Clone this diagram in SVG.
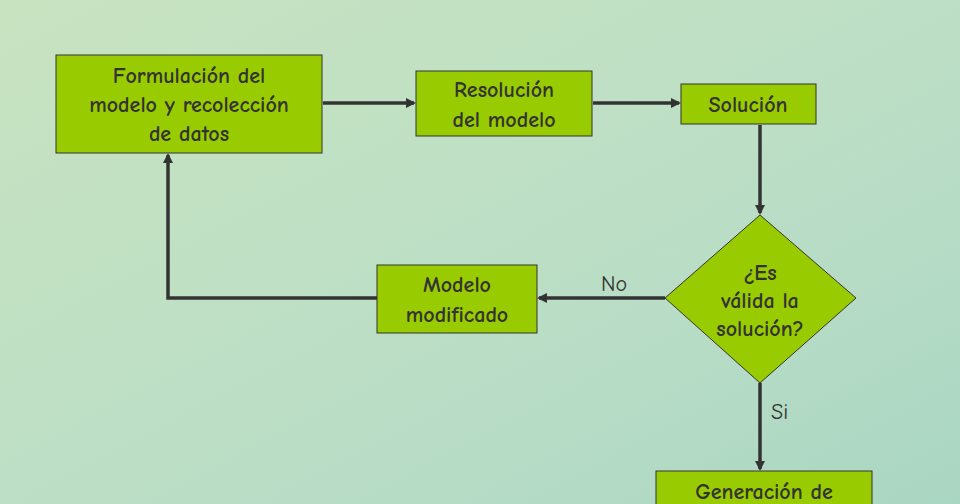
<svg xmlns="http://www.w3.org/2000/svg" width="960" height="504" viewBox="0 0 960 504">
<defs>
<linearGradient id="bg" x1="0" y1="0" x2="1" y2="1">
<stop offset="0" stop-color="#c8e3c0"/><stop offset="0.4" stop-color="#bfe0c4"/><stop offset="0.7" stop-color="#b7dcc6"/><stop offset="1" stop-color="#a9d6c2"/>
</linearGradient>
<marker id="ah" markerWidth="10" markerHeight="10" refX="8" refY="5" orient="auto" markerUnits="userSpaceOnUse"><path d="M0,0 L10,5 L0,10 Z" fill="#333"/></marker>
<style>
.n{fill:#99cc00;stroke:#333;stroke-width:1}
.t{font-family:"Comic Neue","Liberation Sans",sans-serif;font-weight:bold;font-size:22px;fill:#333;text-anchor:middle}
.l{font-family:"Comic Neue","Liberation Sans",sans-serif;font-size:22px;fill:#333}
.c{stroke:#333;stroke-width:3.5;fill:none;marker-end:url(#ah)}
</style>
</defs>
<rect width="960" height="504" fill="url(#bg)"/>
<g id="connectors">
<line class="c" x1="323" y1="103" x2="414" y2="103"/>
<line class="c" x1="593" y1="103" x2="679" y2="103"/>
<line class="c" x1="760" y1="125" x2="760" y2="213"/>
<line class="c" x1="665" y1="298" x2="539" y2="298"/>
<polyline class="c" points="377,298 168,298 168,155"/>
<line class="c" x1="760" y1="383" x2="760" y2="469"/>
<text class="l" x="601" y="291">No</text>
<text class="l" x="771" y="419">Si</text>
</g>
<g id="n1"><rect class="n" x="56" y="55" width="266" height="98"/>
<text class="t" x="189" y="83">Formulación del</text><text class="t" x="189" y="112">modelo y recolección</text><text class="t" x="189" y="141">de datos</text></g>
<g id="n2"><rect class="n" x="416" y="71" width="176" height="65"/>
<text class="t" x="504" y="97">Resolución</text><text class="t" x="504" y="127">del modelo</text></g>
<g id="n3"><rect class="n" x="681" y="84" width="135" height="40"/>
<text class="t" x="748" y="112">Solución</text></g>
<g id="n4"><polygon class="n" points="760,215 856,298 760,383 665,298"/>
<text class="t" x="760" y="280">¿Es</text><text class="t" x="760" y="308">válida la</text><text class="t" x="760" y="336">solución?</text></g>
<g id="n5"><rect class="n" x="377" y="265" width="160" height="68"/>
<text class="t" x="457" y="292">Modelo</text><text class="t" x="457" y="322">modificado</text></g>
<g id="n6"><rect class="n" x="656" y="471" width="216" height="40"/>
<text class="t" x="764" y="499">Generación de</text></g>
</svg>
